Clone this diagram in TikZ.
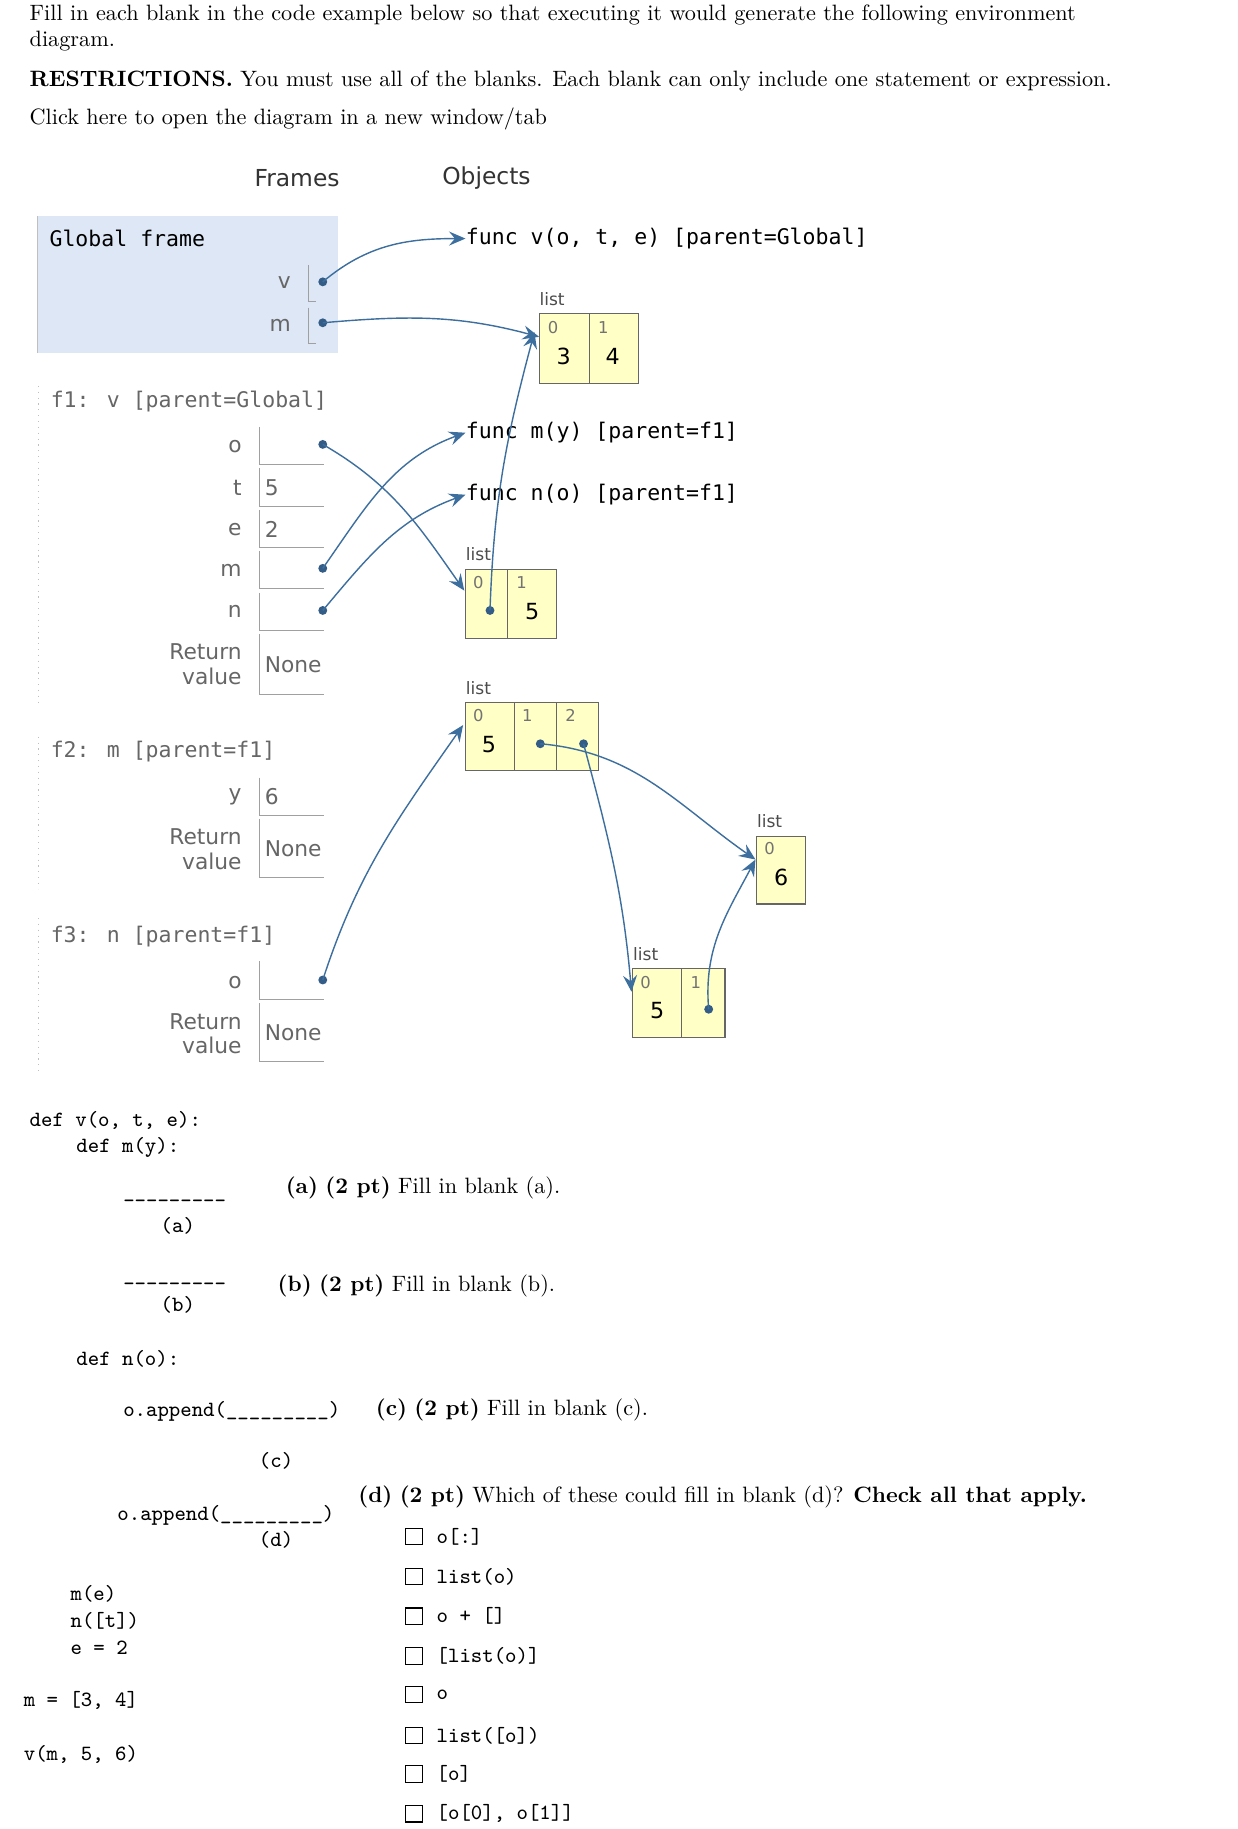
\documentclass[tikz,border=0pt]{standalone}
\usepackage{fontspec}
\newfontfamily\djs{DejaVu Sans}
\newfontfamily\djm{DejaVu Sans Mono}
\usetikzlibrary{arrows.meta}
\definecolor{arr}{HTML}{3C6E9E}
\definecolor{gfill}{HTML}{DDE7F5}
\definecolor{lfill}{HTML}{FFFFC6}
\definecolor{cellc}{HTML}{A0A0A0}
\begin{document}
\begin{tikzpicture}[x=0.5pt,y=-0.5pt,
  every node/.style={inner sep=0pt,anchor=west},
  prose/.style={font=\fontsize{9.5}{11}\selectfont},
  code/.style={font=\fontsize{9.3}{11}\ttfamily},
  dmono/.style={font=\fontsize{9.2}{11}\djm},
  hdr/.style={font=\fontsize{10}{12}\djs,text=black!80,anchor=center},
  var/.style={font=\fontsize{9.3}{11}\djs,text=black!60,anchor=east},
  val/.style={font=\fontsize{9.3}{11}\djs,text=black!60},
  lbl/.style={font=\fontsize{7.3}{8}\djs,text=black!70},
  idx/.style={font=\fontsize{7}{8}\djs,text=black!55,anchor=center},
  lval/.style={font=\fontsize{9.5}{11}\djs,anchor=center},
  cell/.style={draw=cellc,line width=0.5pt},
  lbox/.style={draw=black!60,fill=lfill,line width=0.5pt},
  ptr/.style={draw=arr,line width=0.6pt,-{Stealth[length=7pt,width=6pt,inset=2.5pt]}},
  dotc/.style={circle,fill=arr!85!black,minimum size=3.8pt},
  frameline/.style={draw=black!25,dotted,line width=0.5pt},
  chk/.style={draw=black,line width=0.5pt}]
\useasboundingbox (0,0) rectangle (1058,1564);
\fill[white] (0,0) rectangle (1058,1564);
% prose
\node[prose] (p1) at (25,13) {Fill in each blank in the code example below so that executing it would generate the following environment};
\node[prose] (p2) at (25,35) {diagram.};
\node[prose] (p3) at (25,69) {\textbf{RESTRICTIONS.} You must use all of the blanks. Each blank can only include one statement or expression.};
\node[prose] (p4) at (25,102) {Click here to open the diagram in a new window/tab};
\node[hdr] (hf) at (254,152) {Frames};
\node[hdr] (ho) at (416,152) {Objects};
% global frame
\fill[gfill] (32,185) rectangle (289,302);
\draw[black!25,line width=0.5pt] (32,185) -- (32,302);
\node[dmono] (gt) at (42,204) {Global frame};
\node[var] (gv) at (249,242) {v};
\node[var] (gm) at (249,278) {m};
\draw[cell] (264,227) -- (264,258) -- (270,258);
\draw[cell] (264,263) -- (264,294) -- (270,294);
\node[dotc,anchor=center] (dv) at (276,241) {};
\node[dotc,anchor=center] (dm) at (276,276) {};
% f1
\draw[frameline] (33,330) -- (33,602);
\node[dmono,text=black!60] (f1t) at (43,343) {f1: v [parent=Global]};
\node[var] (f1o) at (207,382) {o};
\node[var] (f1tv) at (207,417) {t};
\node[var] (f1e) at (207,453) {e};
\node[var] (f1m) at (207,488) {m};
\node[var] (f1n) at (207,523) {n};
\node[var,align=right,font=\fontsize{9.3}{10.5}\djs] (f1r) at (207,568) {Return\\value};
\draw[cell] (222,365) -- (222,397) -- (277,397);
\draw[cell] (222,400) -- (222,433) -- (277,433);
\draw[cell] (222,436) -- (222,468) -- (277,468);
\draw[cell] (222,471) -- (222,503) -- (277,503);
\draw[cell] (222,507) -- (222,539) -- (277,539);
\draw[cell] (222,542) -- (222,594) -- (277,594);
\node[val] (v5) at (226,417) {5};
\node[val] (v2) at (226,453) {2};
\node[val] (vn1) at (226,568) {None};
\node[dotc,anchor=center] (do) at (276,380) {};
\node[dotc,anchor=center] (dmm) at (276,486) {};
\node[dotc,anchor=center] (dn) at (276,522) {};
% f2
\draw[frameline] (33,630) -- (33,760);
\node[dmono,text=black!60] (f2t) at (43,643) {f2: m [parent=f1]};
\node[var] (f2y) at (207,681) {y};
\node[var,align=right,font=\fontsize{9.3}{10.5}\djs] (f2r) at (207,726) {Return\\value};
\draw[cell] (222,665) -- (222,697) -- (277,697);
\draw[cell] (222,700) -- (222,750) -- (277,750);
\node[val] (v6) at (226,681) {6};
\node[val] (vn2) at (226,726) {None};
% f3
\draw[frameline] (33,785) -- (33,917);
\node[dmono,text=black!60] (f3t) at (43,801) {f3: n [parent=f1]};
\node[var] (f3o) at (207,840) {o};
\node[var,align=right,font=\fontsize{9.3}{10.5}\djs] (f3r) at (207,884) {Return\\value};
\draw[cell] (222,822) -- (222,855) -- (277,855);
\draw[cell] (222,858) -- (222,908) -- (277,908);
\node[val] (vn3) at (226,883) {None};
\node[dotc,anchor=center] (d3o) at (276,838) {};
% objects
\node[dmono] (fv) at (398,204) {func v(o, t, e) [parent=Global]};
\node[dmono] (fm) at (398,370) {func m(y) [parent=f1]};
\node[dmono] (fn) at (398,423) {func n(o) [parent=f1]};
% list m [3,4]
\node[lbl] (l1) at (461,256) {list};
\draw[lbox] (461,268) rectangle (504,328);
\draw[lbox] (504,268) rectangle (546,328);
\node[idx] at (473,280) {0};\node[idx] at (516,280) {1};
\node[lval] at (482,305) {3};\node[lval] at (524,305) {4};
\coordinate (L1) at (461,288);
\coordinate (L1b) at (457,284);
% list A
\node[lbl] (l2) at (398,474) {list};
\draw[lbox] (398,487) rectangle (434,546);
\draw[lbox] (434,487) rectangle (476,546);
\node[idx] at (409,498) {0};\node[idx] at (446,498) {1};
\node[lval] at (455,523) {5};
\node[dotc,anchor=center] (dA) at (419,522) {};
\coordinate (LA) at (397,505);
% list B
\node[lbl] (l3) at (398,588) {list};
\draw[lbox] (398,601) rectangle (440,659);
\draw[lbox] (440,601) rectangle (476,659);
\draw[lbox] (476,601) rectangle (512,659);
\node[idx] at (409,612) {0};\node[idx] at (451,612) {1};\node[idx] at (488,612) {2};
\node[lval] at (418,637) {5};
\node[dotc,anchor=center] (dB1) at (462,636) {};
\node[dotc,anchor=center] (dB2) at (499,636) {};
\coordinate (LB) at (396,620);
% list D
\node[lbl] (l4) at (647,702) {list};
\draw[lbox] (647,715) rectangle (689,773);
\node[idx] at (658,726) {0};
\node[lval] at (668,750) {6};
\coordinate (LD) at (646,735);
% list C
\node[lbl] (l5) at (541,816) {list};
\draw[lbox] (541,828) rectangle (583,887);
\draw[lbox] (583,828) rectangle (620,887);
\node[idx] at (552,840) {0};\node[idx] at (595,840) {1};
\node[lval] at (562,864) {5};
\node[dotc,anchor=center] (dC) at (606,863) {};
\coordinate (LC) at (540,848);
% pointers
\draw[ptr] (dv.center) to[out=40,in=180] (fv.west);
\draw[ptr] (dm.center) to[out=5,in=165] (L1);
\draw[ptr] (do.center) to[out=-30,in=125] (LA);
\draw[ptr] (dmm.center) to[out=55,in=200] (fm.west);
\draw[ptr] (dn.center) to[out=50,in=200] (fn.west);
\draw[ptr] (dA.center) to[out=88,in=-105] (L1b);
\draw[ptr] (d3o.center) to[out=72,in=-125] (LB);
\draw[ptr] (dB1.center) to[out=-5,in=145] (LD);
\draw[ptr] (dB2.center) to[out=-75,in=95] (LC);
\draw[ptr] (dC.center) to[out=95,in=-118] (LD);
% code
\node[code] (c1) at (25,958) {def v(o, t, e):};
\node[code] (c2) at (65,981) {def m(y):};
\node[code] (c3) at (105,1029) {---------};
\node[code] (c4) at (137,1048) {(a)};
\node[prose] (qa) at (244,1016) {\textbf{(a)} \textbf{(2 pt)} Fill in blank (a).};
\node[code] (c5) at (105,1100) {---------};
\node[code] (c6) at (137,1116) {(b)};
\node[prose] (qb) at (237,1100) {\textbf{(b)} \textbf{(2 pt)} Fill in blank (b).};
\node[code] (c7) at (65,1162) {def n(o):};
\node[code] (c8) at (105,1207) {o.append(\_\_\_\_\_\_\_\_\_)};
\node[code] (c9) at (221,1249) {(c)};
\node[prose] (qc) at (321,1206) {\textbf{(c)} \textbf{(2 pt)} Fill in blank (c).};
\node[code] (c10) at (100,1296) {o.append(\_\_\_\_\_\_\_\_\_)};
\node[code] (c11) at (221,1317) {(d)};
\node[prose] (qd) at (306,1280) {\textbf{(d)} \textbf{(2 pt)} Which of these could fill in blank (d)? \textbf{Check all that apply.}};
\node[code] (c12) at (60,1363) {m(e)};
\node[code] (c13) at (60,1386) {n([t])};
\node[code] (c14) at (60,1409) {e = 2};
\node[code] (c15) at (20,1454) {m = [3, 4]};
\node[code] (c16) at (20,1500) {v(m, 5, 6)};
% options
\foreach \yy/\tx [count=\i] in {1314/{o[:]},1348/{list(o)},1382/{o + []},1416/{[list(o)]},1449/{o},1484/{list([o])},1517/{[o]},1551/{[o[0], o[1]]}}{
  \draw[chk] (347,\yy-7) rectangle (361,\yy+7);
  \node[code] (opt\i) at (373,\yy) {\tx};
}
\end{tikzpicture}
\end{document}
